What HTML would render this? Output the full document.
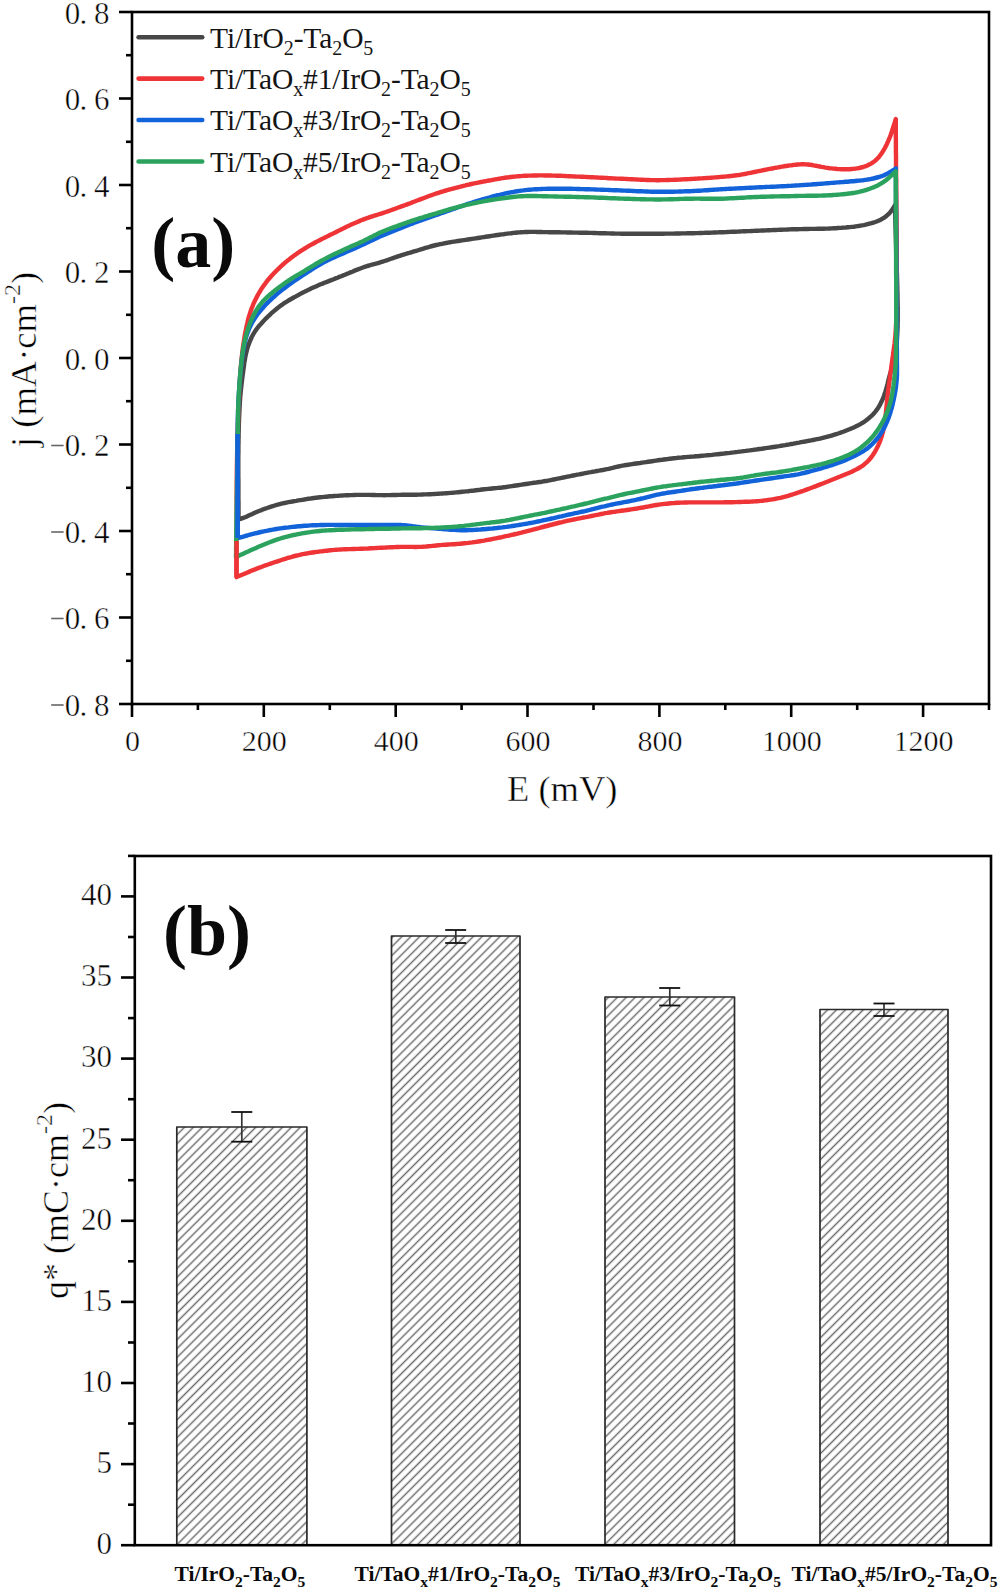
<!DOCTYPE html>
<html><head><meta charset="utf-8">
<style>
html,body{margin:0;padding:0;background:#fff;}
body{width:1000px;height:1593px;overflow:hidden;}
svg{display:block;}
text{font-family:"Liberation Serif", serif;fill:#000;stroke:#fff;stroke-width:0.45px;}
.bd text,text.bd{stroke:none;fill:#0a0a0a;}
.lg text{stroke:none;fill:#141414;}
</style></head><body>
<svg width="1000" height="1593" viewBox="0 0 1000 1593">
<defs>
<pattern id="hatch" patternUnits="userSpaceOnUse" width="6.3" height="6.3" patternTransform="translate(0,-2.4) rotate(45)">
<line x1="3.15" y1="0" x2="3.15" y2="6.3" stroke="#6a6a6a" stroke-width="1.45"/>
</pattern>
</defs>
<rect width="1000" height="1593" fill="#fff"/>
<g>
<path d="M238.5,519.5 238.5,517.5 238.5,515.5 238.5,513.5 238.5,511.5 238.5,509.5 238.5,507.5 238.5,505.5 238.5,503.5 238.5,501.5 238.4,499.5 238.4,497.5 238.4,495.5 238.4,493.5 238.4,491.4 238.4,489.4 238.4,487.4 238.4,485.4 238.4,483.4 238.4,481.4 238.4,479.4 238.3,477.4 238.3,475.4 238.3,473.4 238.3,471.4 238.3,469.4 238.3,467.4 238.3,465.4 238.3,463.4 238.3,461.4 238.3,459.4 238.3,457.4 238.3,455.4 238.4,453.4 238.4,451.4 238.4,449.4 238.4,447.4 238.4,445.4 238.5,443.4 238.5,441.4 238.5,439.4 238.6,437.4 238.6,435.3 238.6,433.3 238.7,431.3 238.7,429.3 238.8,427.3 238.8,425.3 238.9,423.3 239.0,421.3 239.0,419.3 239.1,417.3 239.2,415.3 239.3,413.3 239.4,411.3 239.5,409.3 239.6,407.3 239.7,405.3 239.8,403.3 239.9,401.3 240.1,399.3 240.2,397.3 240.4,395.3 240.6,393.3 240.8,391.3 241.0,389.3 241.2,387.3 241.4,385.4 241.6,383.4 241.9,381.4 242.1,379.4 242.4,377.4 242.6,375.4 242.9,373.4 243.2,371.4 243.4,369.5 243.7,367.5 244.0,365.5 244.2,363.5 244.5,361.5 244.9,359.5 245.2,357.6 245.6,355.6 246.0,353.7 246.5,351.7 247.0,349.8 247.5,347.9 248.1,345.9 248.8,344.1 249.5,342.2 250.3,340.3 251.1,338.5 251.9,336.7 252.9,334.9 253.9,333.2 254.9,331.5 256.0,329.9 257.2,328.3 258.5,326.7 259.7,325.2 261.1,323.7 262.4,322.2 263.8,320.7 265.2,319.3 266.6,317.9 268.0,316.5 269.5,315.1 270.9,313.7 272.4,312.4 273.9,311.1 275.5,309.8 277.0,308.5 278.6,307.3 280.2,306.0 281.8,304.9 283.4,303.7 285.1,302.6 286.8,301.6 288.5,300.5 290.2,299.5 292.0,298.5 293.7,297.5 295.5,296.6 297.2,295.6 299.0,294.7 300.8,293.7 302.5,292.8 304.3,291.9 306.1,291.0 307.9,290.1 309.7,289.2 311.5,288.3 313.3,287.5 315.2,286.7 317.0,285.9 318.8,285.1 320.7,284.3 322.5,283.6 324.4,282.8 326.3,282.1 328.1,281.4 330.0,280.6 331.9,279.9 333.7,279.2 335.6,278.4 337.4,277.7 339.3,276.9 341.2,276.2 343.0,275.4 344.9,274.7 346.7,273.9 348.6,273.2 350.5,272.4 352.3,271.7 354.2,270.9 356.0,270.1 357.9,269.4 359.7,268.7 361.6,268.0 363.5,267.3 365.4,266.6 367.3,266.0 369.2,265.5 371.1,264.9 373.1,264.4 375.0,263.9 376.9,263.4 378.9,262.8 380.8,262.2 382.7,261.6 384.6,261.0 386.5,260.4 388.4,259.7 390.3,259.0 392.2,258.4 394.0,257.7 395.9,257.1 397.8,256.4 399.7,255.8 401.7,255.2 403.6,254.6 405.5,254.0 407.4,253.4 409.3,252.9 411.2,252.3 413.2,251.7 415.1,251.1 417.0,250.6 418.9,250.0 420.8,249.4 422.8,248.8 424.7,248.2 426.6,247.6 428.5,247.1 430.4,246.5 432.4,246.0 434.3,245.5 436.3,245.0 438.2,244.6 440.2,244.2 442.1,243.8 444.1,243.4 446.1,243.0 448.0,242.6 450.0,242.3 452.0,241.9 454.0,241.6 455.9,241.3 457.9,241.0 459.9,240.7 461.9,240.4 463.9,240.1 465.8,239.8 467.8,239.5 469.8,239.2 471.8,238.9 473.8,238.6 475.7,238.3 477.7,238.0 479.7,237.7 481.7,237.4 483.7,237.1 485.7,236.8 487.6,236.5 489.6,236.2 491.6,235.9 493.6,235.6 495.6,235.3 497.5,235.0 499.5,234.7 501.5,234.4 503.5,234.2 505.5,233.9 507.5,233.6 509.4,233.4 511.4,233.2 513.4,232.9 515.4,232.7 517.4,232.5 519.4,232.4 521.4,232.2 523.4,232.1 525.4,232.0 527.4,232.0 529.4,231.9 531.4,231.9 533.4,231.9 535.4,231.9 537.4,232.0 539.4,232.0 541.4,232.0 543.4,232.1 545.4,232.1 547.4,232.1 549.4,232.2 551.4,232.2 553.4,232.2 555.5,232.3 557.5,232.3 559.5,232.3 561.5,232.4 563.5,232.4 565.5,232.4 567.5,232.5 569.5,232.5 571.5,232.5 573.5,232.6 575.5,232.6 577.5,232.6 579.5,232.7 581.5,232.7 583.5,232.8 585.5,232.8 587.5,232.8 589.5,232.9 591.5,232.9 593.5,233.0 595.5,233.0 597.5,233.1 599.5,233.2 601.5,233.2 603.5,233.3 605.5,233.3 607.5,233.4 609.5,233.4 611.5,233.5 613.5,233.5 615.5,233.6 617.6,233.6 619.6,233.6 621.6,233.7 623.6,233.7 625.6,233.7 627.6,233.7 629.6,233.8 631.6,233.8 633.6,233.8 635.6,233.8 637.6,233.8 639.6,233.8 641.6,233.8 643.6,233.8 645.6,233.8 647.6,233.8 649.6,233.7 651.6,233.7 653.6,233.7 655.6,233.7 657.6,233.7 659.6,233.7 661.6,233.7 663.6,233.7 665.6,233.6 667.6,233.6 669.6,233.6 671.6,233.6 673.7,233.6 675.7,233.5 677.7,233.5 679.7,233.5 681.7,233.4 683.7,233.4 685.7,233.4 687.7,233.3 689.7,233.3 691.7,233.2 693.7,233.2 695.7,233.1 697.7,233.1 699.7,233.0 701.7,233.0 703.7,232.9 705.7,232.8 707.7,232.8 709.7,232.7 711.7,232.6 713.7,232.5 715.7,232.5 717.7,232.4 719.7,232.3 721.7,232.2 723.7,232.2 725.7,232.1 727.7,232.0 729.7,231.9 731.7,231.8 733.7,231.7 735.7,231.7 737.7,231.6 739.7,231.5 741.7,231.4 743.7,231.3 745.7,231.2 747.7,231.1 749.7,231.1 751.7,231.0 753.7,230.9 755.8,230.8 757.8,230.7 759.8,230.6 761.8,230.5 763.8,230.5 765.8,230.4 767.8,230.3 769.8,230.2 771.8,230.1 773.8,230.0 775.8,230.0 777.8,229.9 779.8,229.8 781.8,229.7 783.8,229.6 785.8,229.6 787.8,229.5 789.8,229.4 791.8,229.3 793.8,229.3 795.8,229.2 797.8,229.2 799.8,229.1 801.8,229.1 803.8,229.0 805.8,229.0 807.8,229.0 809.8,228.9 811.8,228.9 813.8,228.9 815.8,228.9 817.8,228.8 819.8,228.8 821.8,228.7 823.8,228.7 825.8,228.6 827.8,228.6 829.8,228.5 831.8,228.4 833.8,228.3 835.8,228.2 837.8,228.0 839.8,227.9 841.8,227.8 843.8,227.6 845.8,227.5 847.8,227.3 849.8,227.1 851.8,226.9 853.8,226.7 855.8,226.4 857.8,226.1 859.8,225.8 861.7,225.4 863.7,225.1 865.7,224.7 867.6,224.2 869.5,223.7 871.5,223.2 873.4,222.6 875.3,222.0 877.2,221.3 879.0,220.5 880.8,219.7 882.5,218.7 884.2,217.6 885.8,216.5 887.3,215.2 888.7,213.9 890.1,212.4 891.3,210.9 892.4,209.3 893.5,207.6 894.5,205.9 895.0,205.0 L895.0,205.0 895.0,207.0 895.1,209.0 895.1,211.0 895.2,213.0 895.2,215.0 895.3,217.0 895.3,219.0 895.4,221.0 895.4,223.0 895.5,225.0 895.5,227.0 895.6,229.0 895.6,231.1 895.7,233.1 895.8,235.1 895.8,237.1 895.9,239.1 895.9,241.1 896.0,243.1 896.1,245.1 896.1,247.1 896.2,249.1 896.2,251.1 896.3,253.1 896.4,255.1 896.4,257.1 896.5,259.1 896.5,261.1 896.6,263.1 896.7,265.1 896.7,267.1 896.8,269.1 896.8,271.1 896.9,273.1 897.0,275.1 897.0,277.1 897.1,279.1 897.1,281.1 897.2,283.1 897.2,285.1 897.3,287.2 897.3,289.2 897.4,291.2 897.4,293.2 897.5,295.2 897.5,297.2 897.5,299.2 897.6,301.2 897.6,303.2 897.6,305.2 897.6,307.2 897.7,309.2 897.7,311.2 897.7,313.2 897.7,315.2 897.7,317.2 897.7,319.2 897.7,321.2 897.6,323.2 897.6,325.2 897.6,327.2 897.5,329.2 897.4,331.2 897.3,333.2 897.2,335.2 897.1,337.2 897.0,339.2 896.8,341.2 896.6,343.2 896.4,345.2 896.1,347.2 895.9,349.2 895.6,351.2 895.2,353.2 894.9,355.1 894.5,357.1 894.1,359.1 893.7,361.0 893.2,363.0 892.7,364.9 892.2,366.8 891.6,368.8 891.1,370.7 890.5,372.6 890.0,374.5 889.4,376.5 888.9,378.4 888.4,380.4 887.9,382.3 887.5,384.2 887.0,386.2 886.4,388.1 885.9,390.0 885.3,391.9 884.6,393.8 884.0,395.7 883.3,397.6 882.5,399.5 881.7,401.3 880.8,403.1 879.9,404.9 878.9,406.6 877.9,408.3 876.7,409.9 875.5,411.5 874.3,413.0 872.9,414.5 871.5,415.9 870.0,417.2 868.5,418.5 866.9,419.8 865.3,421.0 863.7,422.1 862.0,423.2 860.3,424.2 858.5,425.1 856.7,426.0 854.9,426.9 853.1,427.7 851.3,428.5 849.4,429.3 847.6,430.0 845.7,430.7 843.8,431.5 841.9,432.2 840.1,432.8 838.2,433.5 836.3,434.1 834.4,434.7 832.4,435.3 830.5,435.9 828.6,436.4 826.7,436.9 824.7,437.4 822.8,437.9 820.8,438.4 818.9,438.8 816.9,439.2 814.9,439.6 813.0,440.0 811.0,440.4 809.0,440.7 807.1,441.1 805.1,441.5 803.1,441.8 801.1,442.2 799.2,442.6 797.2,442.9 795.2,443.3 793.3,443.7 791.3,444.0 789.3,444.4 787.3,444.7 785.4,445.1 783.4,445.4 781.4,445.7 779.4,446.1 777.5,446.4 775.5,446.7 773.5,447.0 771.5,447.3 769.5,447.6 767.5,447.9 765.6,448.2 763.6,448.5 761.6,448.8 759.6,449.0 757.6,449.3 755.6,449.6 753.6,449.8 751.7,450.1 749.7,450.4 747.7,450.6 745.7,450.9 743.7,451.1 741.7,451.4 739.7,451.6 737.7,451.9 735.8,452.1 733.8,452.4 731.8,452.6 729.8,452.9 727.8,453.1 725.8,453.3 723.8,453.6 721.8,453.8 719.8,454.0 717.8,454.2 715.8,454.4 713.8,454.6 711.9,454.9 709.9,455.1 707.9,455.2 705.9,455.4 703.9,455.6 701.9,455.8 699.9,456.0 697.9,456.2 695.9,456.3 693.9,456.5 691.9,456.6 689.9,456.8 687.9,456.9 685.9,457.1 683.9,457.3 681.9,457.5 679.9,457.6 677.9,457.8 675.9,458.1 673.9,458.3 671.9,458.5 669.9,458.7 668.0,459.0 666.0,459.2 664.0,459.5 662.0,459.8 660.0,460.0 658.0,460.3 656.0,460.6 654.1,460.9 652.1,461.2 650.1,461.5 648.1,461.8 646.1,462.1 644.1,462.4 642.2,462.7 640.2,463.0 638.2,463.2 636.2,463.5 634.2,463.8 632.2,464.1 630.3,464.4 628.3,464.7 626.3,465.0 624.3,465.3 622.3,465.7 620.4,466.1 618.4,466.5 616.5,466.9 614.5,467.4 612.6,467.9 610.6,468.3 608.7,468.8 606.7,469.2 604.7,469.6 602.8,470.0 600.8,470.3 598.8,470.7 596.9,471.0 594.9,471.4 592.9,471.7 590.9,472.1 589.0,472.4 587.0,472.8 585.0,473.2 583.1,473.6 581.1,474.0 579.1,474.4 577.2,474.7 575.2,475.1 573.2,475.5 571.3,475.9 569.3,476.3 567.3,476.7 565.4,477.1 563.4,477.5 561.5,477.9 559.5,478.3 557.5,478.7 555.6,479.1 553.6,479.5 551.6,479.9 549.7,480.3 547.7,480.7 545.7,481.0 543.7,481.3 541.8,481.7 539.8,482.0 537.8,482.3 535.8,482.6 533.8,482.8 531.8,483.1 529.9,483.4 527.9,483.7 525.9,484.0 523.9,484.3 521.9,484.6 520.0,484.9 518.0,485.2 516.0,485.5 514.0,485.8 512.0,486.1 510.0,486.4 508.1,486.7 506.1,487.0 504.1,487.2 502.1,487.5 500.1,487.7 498.1,487.9 496.1,488.1 494.1,488.3 492.1,488.5 490.1,488.7 488.1,488.9 486.1,489.1 484.2,489.3 482.2,489.5 480.2,489.8 478.2,490.0 476.2,490.2 474.2,490.5 472.2,490.7 470.2,490.9 468.2,491.2 466.2,491.4 464.2,491.6 462.3,491.8 460.3,492.0 458.3,492.2 456.3,492.4 454.3,492.6 452.3,492.8 450.3,492.9 448.3,493.1 446.3,493.2 444.3,493.4 442.3,493.5 440.3,493.6 438.3,493.7 436.3,493.9 434.3,494.0 432.3,494.1 430.3,494.2 428.3,494.3 426.3,494.4 424.3,494.4 422.3,494.5 420.3,494.6 418.2,494.6 416.2,494.7 414.2,494.7 412.2,494.7 410.2,494.7 408.2,494.8 406.2,494.8 404.2,494.8 402.2,494.8 400.2,494.9 398.2,494.9 396.2,495.0 394.2,495.0 392.2,495.0 390.2,495.1 388.2,495.1 386.2,495.1 384.2,495.2 382.2,495.1 380.2,495.1 378.2,495.1 376.2,495.1 374.2,495.0 372.2,495.0 370.2,494.9 368.1,494.9 366.1,494.9 364.1,494.9 362.1,494.9 360.1,494.9 358.1,494.9 356.1,494.9 354.1,495.0 352.1,495.1 350.1,495.1 348.1,495.2 346.1,495.3 344.1,495.4 342.1,495.5 340.1,495.6 338.1,495.8 336.1,495.9 334.1,496.0 332.1,496.2 330.1,496.3 328.1,496.5 326.1,496.7 324.1,496.9 322.1,497.1 320.1,497.3 318.1,497.5 316.1,497.7 314.2,498.0 312.2,498.3 310.2,498.6 308.2,498.8 306.2,499.1 304.2,499.5 302.3,499.8 300.3,500.1 298.3,500.4 296.3,500.8 294.4,501.1 292.4,501.5 290.4,501.8 288.4,502.2 286.5,502.6 284.5,503.0 282.6,503.4 280.6,503.9 278.7,504.4 276.7,504.9 274.8,505.5 272.9,506.1 271.0,506.7 269.1,507.3 267.2,508.0 265.3,508.6 263.4,509.3 261.6,510.1 259.7,510.8 257.8,511.5 256.0,512.3 254.2,513.1 252.3,514.0 250.5,514.8 248.7,515.6 246.9,516.4 245.1,517.2 243.2,517.9 241.3,518.6 239.4,519.2 238.5,519.5 " fill="none" stroke="#474747" stroke-width="4.4" stroke-linejoin="round" stroke-linecap="round"/>
<path d="M236.5,577.0 236.5,575.0 236.5,573.0 236.5,571.0 236.5,569.0 236.5,567.0 236.5,565.0 236.5,563.0 236.5,561.0 236.5,559.0 236.5,557.0 236.5,555.0 236.5,553.0 236.5,551.0 236.5,549.0 236.5,547.0 236.5,545.0 236.5,543.0 236.5,541.0 236.5,538.9 236.5,536.9 236.5,534.9 236.5,532.9 236.5,530.9 236.5,528.9 236.5,526.9 236.5,524.9 236.5,522.9 236.5,520.9 236.6,518.9 236.6,516.9 236.6,514.9 236.6,512.9 236.6,510.9 236.6,508.9 236.6,506.9 236.6,504.9 236.6,502.9 236.6,500.9 236.6,498.9 236.6,496.9 236.6,494.9 236.7,492.9 236.7,490.9 236.7,488.9 236.7,486.9 236.7,484.9 236.7,482.9 236.7,480.9 236.8,478.9 236.8,476.9 236.8,474.9 236.8,472.9 236.8,470.9 236.9,468.9 236.9,466.9 236.9,464.9 237.0,462.8 237.0,460.8 237.0,458.8 237.1,456.8 237.1,454.8 237.1,452.8 237.2,450.8 237.2,448.8 237.3,446.8 237.3,444.8 237.4,442.8 237.4,440.8 237.5,438.8 237.5,436.8 237.6,434.8 237.7,432.8 237.7,430.8 237.8,428.8 237.9,426.8 237.9,424.8 238.0,422.8 238.1,420.8 238.1,418.8 238.2,416.8 238.3,414.8 238.4,412.8 238.5,410.8 238.6,408.8 238.6,406.8 238.7,404.8 238.8,402.8 238.9,400.8 239.0,398.8 239.1,396.8 239.1,394.8 239.2,392.8 239.3,390.8 239.4,388.8 239.5,386.8 239.6,384.8 239.7,382.8 239.9,380.8 240.0,378.8 240.1,376.8 240.2,374.8 240.4,372.8 240.5,370.8 240.7,368.8 240.9,366.8 241.0,364.8 241.2,362.8 241.4,360.8 241.6,358.8 241.8,356.8 242.0,354.9 242.3,352.9 242.5,350.9 242.8,348.9 243.0,346.9 243.3,344.9 243.6,342.9 243.9,341.0 244.2,339.0 244.5,337.0 244.9,335.0 245.2,333.1 245.6,331.1 246.0,329.1 246.4,327.2 246.8,325.2 247.3,323.3 247.7,321.3 248.2,319.4 248.7,317.4 249.3,315.5 249.9,313.6 250.5,311.7 251.1,309.8 251.8,307.9 252.6,306.1 253.3,304.2 254.1,302.4 255.0,300.6 255.9,298.8 256.8,297.0 257.7,295.2 258.7,293.5 259.7,291.8 260.7,290.1 261.8,288.4 262.9,286.7 264.1,285.1 265.3,283.5 266.5,281.9 267.7,280.3 269.0,278.8 270.3,277.3 271.6,275.8 273.0,274.3 274.4,272.8 275.8,271.4 277.2,270.0 278.6,268.6 280.1,267.2 281.5,265.8 283.0,264.5 284.5,263.2 286.0,261.9 287.6,260.6 289.2,259.4 290.7,258.1 292.3,256.9 293.9,255.7 295.6,254.6 297.2,253.4 298.8,252.3 300.5,251.2 302.2,250.1 303.9,249.0 305.6,248.0 307.3,246.9 309.0,245.9 310.8,244.9 312.5,244.0 314.3,243.0 316.0,242.0 317.8,241.1 319.6,240.2 321.4,239.3 323.2,238.4 325.0,237.5 326.8,236.6 328.6,235.7 330.3,234.8 332.1,234.0 333.9,233.1 335.7,232.2 337.5,231.3 339.3,230.4 341.1,229.5 342.9,228.6 344.7,227.7 346.5,226.8 348.3,226.0 350.1,225.1 351.9,224.3 353.8,223.5 355.6,222.7 357.4,221.9 359.3,221.1 361.1,220.3 363.0,219.6 364.9,218.9 366.7,218.2 368.6,217.6 370.5,216.9 372.4,216.3 374.4,215.7 376.3,215.1 378.2,214.5 380.1,213.9 382.0,213.3 383.9,212.7 385.8,212.0 387.7,211.4 389.6,210.7 391.5,210.0 393.3,209.4 395.2,208.7 397.1,208.0 399.0,207.3 400.9,206.6 402.8,205.9 404.6,205.3 406.5,204.6 408.4,203.9 410.3,203.2 412.1,202.4 414.0,201.7 415.9,201.0 417.8,200.3 419.6,199.6 421.5,198.9 423.4,198.2 425.2,197.5 427.1,196.7 429.0,196.0 430.9,195.4 432.8,194.7 434.7,194.0 436.6,193.4 438.5,192.8 440.4,192.2 442.3,191.6 444.2,191.0 446.1,190.5 448.0,189.9 450.0,189.4 451.9,188.9 453.8,188.3 455.8,187.8 457.7,187.3 459.7,186.8 461.6,186.3 463.5,185.8 465.5,185.4 467.4,184.9 469.4,184.5 471.3,184.0 473.3,183.6 475.3,183.2 477.2,182.8 479.2,182.4 481.1,182.0 483.1,181.6 485.1,181.3 487.0,180.9 489.0,180.5 491.0,180.2 493.0,179.8 494.9,179.4 496.9,179.1 498.9,178.8 500.8,178.4 502.8,178.1 504.8,177.8 506.8,177.5 508.8,177.3 510.8,177.0 512.8,176.8 514.7,176.6 516.7,176.4 518.7,176.2 520.7,176.1 522.7,175.9 524.7,175.8 526.7,175.7 528.7,175.6 530.7,175.6 532.7,175.5 534.7,175.5 536.7,175.5 538.7,175.4 540.7,175.4 542.7,175.4 544.7,175.5 546.7,175.5 548.7,175.5 550.7,175.5 552.7,175.6 554.8,175.6 556.8,175.7 558.8,175.8 560.8,175.8 562.8,175.9 564.8,176.0 566.8,176.1 568.8,176.2 570.8,176.3 572.8,176.4 574.8,176.5 576.8,176.6 578.8,176.6 580.8,176.7 582.8,176.8 584.8,176.9 586.8,177.0 588.8,177.1 590.8,177.2 592.8,177.3 594.8,177.4 596.8,177.5 598.8,177.6 600.8,177.7 602.8,177.8 604.8,177.9 606.8,178.0 608.8,178.2 610.8,178.3 612.8,178.4 614.8,178.5 616.8,178.6 618.8,178.6 620.8,178.7 622.8,178.8 624.8,178.9 626.8,179.0 628.8,179.1 630.8,179.2 632.8,179.3 634.8,179.4 636.8,179.5 638.8,179.6 640.8,179.7 642.8,179.8 644.8,179.9 646.8,180.0 648.8,180.0 650.8,180.1 652.8,180.1 654.8,180.1 656.8,180.2 658.8,180.2 660.8,180.1 662.8,180.1 664.8,180.1 666.8,180.0 668.8,180.0 670.8,179.9 672.8,179.9 674.8,179.8 676.8,179.7 678.8,179.6 680.8,179.5 682.8,179.4 684.8,179.3 686.8,179.2 688.8,179.1 690.8,179.0 692.8,178.9 694.8,178.7 696.8,178.6 698.8,178.5 700.8,178.4 702.8,178.3 704.8,178.1 706.8,178.0 708.8,177.9 710.8,177.7 712.8,177.6 714.8,177.4 716.8,177.3 718.8,177.1 720.8,176.9 722.8,176.7 724.8,176.6 726.8,176.4 728.7,176.2 730.7,176.0 732.7,175.8 734.7,175.5 736.7,175.2 738.7,175.0 740.7,174.7 742.6,174.3 744.6,174.0 746.6,173.6 748.5,173.2 750.5,172.8 752.5,172.4 754.4,172.0 756.4,171.6 758.3,171.2 760.3,170.8 762.3,170.4 764.2,170.0 766.2,169.6 768.2,169.2 770.1,168.8 772.1,168.5 774.1,168.1 776.0,167.7 778.0,167.4 780.0,167.0 781.9,166.7 783.9,166.3 785.9,166.0 787.9,165.7 789.9,165.4 791.8,165.2 793.8,164.9 795.8,164.7 797.8,164.5 799.8,164.4 801.8,164.3 803.8,164.3 805.8,164.4 807.8,164.5 809.8,164.7 811.7,165.0 813.7,165.4 815.7,165.7 817.6,166.1 819.6,166.5 821.6,166.9 823.5,167.2 825.5,167.6 827.5,167.9 829.5,168.2 831.4,168.4 833.4,168.6 835.4,168.8 837.4,169.0 839.4,169.1 841.4,169.2 843.4,169.3 845.4,169.3 847.4,169.2 849.4,169.2 851.4,169.0 853.4,168.9 855.4,168.6 857.3,168.3 859.3,168.0 861.2,167.5 863.2,167.0 865.0,166.4 866.9,165.7 868.7,164.8 870.5,163.9 872.2,162.9 873.8,161.8 875.3,160.6 876.8,159.2 878.2,157.8 879.4,156.3 880.6,154.7 881.8,153.1 882.9,151.4 883.9,149.7 884.9,148.0 885.8,146.2 886.7,144.4 887.5,142.6 888.3,140.8 889.1,138.9 889.9,137.1 890.6,135.2 891.2,133.3 891.9,131.4 892.5,129.5 893.1,127.6 893.7,125.7 894.3,123.8 894.9,121.9 895.5,120.0 895.8,119.0 L895.8,119.0 895.8,121.0 895.8,123.0 895.8,125.0 895.8,127.0 895.8,129.0 895.8,131.0 895.8,133.0 895.8,135.0 895.8,137.0 895.9,139.0 895.9,141.0 895.9,143.0 895.9,145.0 895.9,147.0 895.9,149.0 895.9,151.0 895.9,153.1 896.0,155.1 896.0,157.1 896.0,159.1 896.0,161.1 896.0,163.1 896.0,165.1 896.0,167.1 896.1,169.1 896.1,171.1 896.1,173.1 896.1,175.1 896.1,177.1 896.2,179.1 896.2,181.1 896.2,183.1 896.2,185.1 896.2,187.1 896.2,189.1 896.3,191.1 896.3,193.1 896.3,195.1 896.3,197.1 896.3,199.1 896.4,201.1 896.4,203.1 896.4,205.1 896.4,207.1 896.4,209.1 896.5,211.1 896.5,213.1 896.5,215.1 896.5,217.1 896.5,219.2 896.6,221.2 896.6,223.2 896.6,225.2 896.6,227.2 896.6,229.2 896.6,231.2 896.7,233.2 896.7,235.2 896.7,237.2 896.7,239.2 896.7,241.2 896.7,243.2 896.7,245.2 896.7,247.2 896.8,249.2 896.8,251.2 896.8,253.2 896.8,255.2 896.8,257.2 896.8,259.2 896.8,261.2 896.8,263.2 896.8,265.2 896.8,267.2 896.8,269.2 896.8,271.2 896.8,273.2 896.8,275.2 896.8,277.2 896.8,279.2 896.8,281.2 896.8,283.3 896.8,285.3 896.8,287.3 896.8,289.3 896.8,291.3 896.8,293.3 896.7,295.3 896.7,297.3 896.7,299.3 896.7,301.3 896.6,303.3 896.6,305.3 896.6,307.3 896.5,309.3 896.5,311.3 896.4,313.3 896.4,315.3 896.3,317.3 896.3,319.3 896.2,321.3 896.1,323.3 896.0,325.3 895.9,327.3 895.8,329.3 895.7,331.3 895.5,333.3 895.4,335.3 895.2,337.3 895.0,339.3 894.8,341.3 894.6,343.3 894.3,345.3 894.1,347.2 893.8,349.2 893.5,351.2 893.3,353.2 893.0,355.2 892.7,357.2 892.4,359.1 892.1,361.1 891.9,363.1 891.6,365.1 891.3,367.1 891.1,369.1 890.8,371.1 890.5,373.0 890.3,375.0 890.0,377.0 889.7,379.0 889.5,381.0 889.2,383.0 888.9,385.0 888.7,386.9 888.4,388.9 888.2,390.9 887.9,392.9 887.7,394.9 887.5,396.9 887.3,398.9 887.1,400.9 886.9,402.9 886.7,404.9 886.5,406.8 886.3,408.8 886.1,410.8 885.9,412.8 885.7,414.8 885.5,416.8 885.3,418.8 885.0,420.8 884.7,422.8 884.4,424.7 884.1,426.7 883.7,428.7 883.2,430.6 882.8,432.6 882.2,434.5 881.7,436.4 881.0,438.3 880.4,440.2 879.7,442.1 878.9,443.9 878.1,445.7 877.2,447.5 876.3,449.3 875.3,451.1 874.3,452.8 873.2,454.5 872.1,456.1 870.9,457.7 869.6,459.2 868.3,460.7 866.9,462.1 865.4,463.4 863.9,464.7 862.3,465.9 860.6,467.0 858.9,468.0 857.2,469.0 855.4,469.9 853.6,470.8 851.8,471.7 850.0,472.5 848.2,473.3 846.3,474.0 844.4,474.8 842.6,475.5 840.7,476.3 838.9,477.0 837.0,477.8 835.2,478.5 833.3,479.3 831.4,480.0 829.6,480.7 827.7,481.5 825.9,482.2 824.0,483.0 822.1,483.7 820.3,484.4 818.4,485.1 816.5,485.9 814.7,486.6 812.8,487.3 810.9,488.0 809.0,488.7 807.2,489.4 805.3,490.1 803.4,490.8 801.5,491.4 799.6,492.1 797.7,492.7 795.8,493.4 793.9,494.0 792.0,494.6 790.1,495.2 788.2,495.8 786.2,496.3 784.3,496.8 782.4,497.3 780.4,497.8 778.5,498.2 776.5,498.6 774.5,499.0 772.6,499.3 770.6,499.6 768.6,499.9 766.6,500.2 764.6,500.4 762.6,500.7 760.7,500.9 758.7,501.1 756.7,501.2 754.7,501.4 752.7,501.5 750.7,501.6 748.7,501.7 746.7,501.8 744.7,501.8 742.7,501.9 740.7,502.0 738.7,502.0 736.7,502.1 734.7,502.1 732.7,502.2 730.6,502.2 728.6,502.3 726.6,502.3 724.6,502.3 722.6,502.4 720.6,502.4 718.6,502.4 716.6,502.4 714.6,502.4 712.6,502.4 710.6,502.4 708.6,502.4 706.6,502.4 704.6,502.4 702.6,502.4 700.6,502.4 698.6,502.4 696.6,502.4 694.6,502.4 692.6,502.4 690.6,502.4 688.6,502.4 686.6,502.5 684.6,502.5 682.6,502.6 680.6,502.6 678.6,502.7 676.6,502.8 674.6,503.0 672.6,503.1 670.6,503.3 668.6,503.5 666.6,503.7 664.6,503.9 662.6,504.1 660.6,504.4 658.7,504.7 656.7,505.0 654.7,505.3 652.7,505.6 650.8,506.0 648.8,506.4 646.8,506.7 644.8,507.1 642.9,507.5 640.9,507.8 638.9,508.1 637.0,508.5 635.0,508.8 633.0,509.1 631.0,509.4 629.0,509.7 627.1,510.0 625.1,510.3 623.1,510.5 621.1,510.8 619.1,511.1 617.1,511.4 615.2,511.7 613.2,511.9 611.2,512.2 609.2,512.5 607.2,512.9 605.3,513.2 603.3,513.6 601.3,514.0 599.4,514.4 597.4,514.8 595.4,515.2 593.5,515.6 591.5,516.0 589.6,516.4 587.6,516.8 585.6,517.2 583.7,517.5 581.7,517.9 579.7,518.3 577.8,518.7 575.8,519.1 573.8,519.5 571.9,519.9 569.9,520.3 568.0,520.7 566.0,521.2 564.0,521.6 562.1,522.1 560.1,522.5 558.2,523.0 556.3,523.5 554.3,524.0 552.4,524.5 550.4,525.0 548.5,525.5 546.6,526.0 544.6,526.5 542.7,527.0 540.8,527.5 538.8,528.1 536.9,528.6 535.0,529.1 533.0,529.6 531.1,530.2 529.2,530.7 527.2,531.2 525.3,531.7 523.3,532.2 521.4,532.7 519.4,533.1 517.5,533.6 515.5,534.0 513.6,534.5 511.6,534.9 509.7,535.4 507.7,535.8 505.8,536.2 503.8,536.6 501.8,537.1 499.9,537.5 497.9,537.9 496.0,538.3 494.0,538.7 492.0,539.1 490.1,539.5 488.1,539.8 486.1,540.2 484.2,540.6 482.2,540.9 480.2,541.2 478.2,541.5 476.3,541.8 474.3,542.1 472.3,542.4 470.3,542.6 468.3,542.9 466.3,543.1 464.3,543.3 462.3,543.5 460.3,543.7 458.3,543.9 456.4,544.0 454.4,544.2 452.4,544.3 450.4,544.4 448.4,544.5 446.4,544.7 444.4,544.8 442.4,544.9 440.4,545.1 438.4,545.3 436.4,545.5 434.4,545.7 432.4,545.9 430.4,546.1 428.4,546.3 426.4,546.5 424.4,546.6 422.4,546.8 420.4,546.9 418.4,546.9 416.4,547.0 414.4,547.0 412.4,546.9 410.4,546.9 408.4,546.9 406.4,546.9 404.4,546.9 402.4,546.9 400.4,546.9 398.4,547.0 396.4,547.0 394.4,547.1 392.4,547.2 390.4,547.3 388.4,547.4 386.4,547.5 384.4,547.6 382.4,547.7 380.4,547.8 378.4,547.9 376.4,548.0 374.4,548.1 372.4,548.2 370.4,548.3 368.4,548.5 366.4,548.6 364.4,548.6 362.4,548.7 360.4,548.8 358.4,548.9 356.4,548.9 354.4,549.0 352.4,549.0 350.4,549.1 348.4,549.1 346.4,549.2 344.4,549.3 342.4,549.4 340.4,549.5 338.4,549.6 336.4,549.7 334.4,549.9 332.4,550.1 330.4,550.3 328.4,550.5 326.4,550.7 324.4,550.9 322.4,551.2 320.4,551.4 318.5,551.7 316.5,551.9 314.5,552.2 312.5,552.5 310.5,552.8 308.5,553.1 306.6,553.5 304.6,553.8 302.6,554.2 300.7,554.6 298.7,555.1 296.8,555.5 294.8,556.0 292.9,556.5 291.0,557.1 289.1,557.6 287.1,558.2 285.2,558.8 283.3,559.4 281.4,560.0 279.5,560.7 277.6,561.3 275.7,561.9 273.8,562.5 271.9,563.2 270.0,563.8 268.1,564.5 266.2,565.1 264.3,565.8 262.5,566.5 260.6,567.2 258.7,567.9 256.8,568.6 255.0,569.4 253.1,570.1 251.3,570.8 249.4,571.6 247.6,572.4 245.7,573.2 243.9,574.0 242.0,574.7 240.2,575.5 238.3,576.3 236.5,577.1 " fill="none" stroke="#ee3437" stroke-width="4.4" stroke-linejoin="round" stroke-linecap="round"/>
<path d="M237.6,538.0 237.6,536.0 237.6,534.0 237.6,532.0 237.6,530.0 237.6,528.0 237.6,526.0 237.6,524.0 237.6,522.0 237.6,520.0 237.6,518.0 237.6,516.0 237.6,514.0 237.6,512.0 237.6,510.0 237.5,508.0 237.5,506.0 237.5,503.9 237.5,501.9 237.5,499.9 237.5,497.9 237.5,495.9 237.5,493.9 237.5,491.9 237.5,489.9 237.5,487.9 237.5,485.9 237.5,483.9 237.5,481.9 237.5,479.9 237.5,477.9 237.5,475.9 237.5,473.9 237.5,471.9 237.5,469.9 237.5,467.9 237.5,465.9 237.5,463.9 237.5,461.9 237.5,459.9 237.5,457.9 237.5,455.9 237.5,453.9 237.5,451.9 237.5,449.9 237.5,447.9 237.5,445.9 237.5,443.9 237.5,441.9 237.5,439.9 237.6,437.9 237.6,435.8 237.6,433.8 237.6,431.8 237.7,429.8 237.7,427.8 237.7,425.8 237.7,423.8 237.8,421.8 237.8,419.8 237.9,417.8 237.9,415.8 238.0,413.8 238.0,411.8 238.1,409.8 238.2,407.8 238.2,405.8 238.3,403.8 238.4,401.8 238.5,399.8 238.6,397.8 238.8,395.8 238.9,393.8 239.0,391.8 239.1,389.8 239.3,387.8 239.4,385.8 239.5,383.8 239.7,381.8 239.9,379.8 240.0,377.8 240.2,375.8 240.4,373.8 240.6,371.8 240.8,369.9 241.0,367.9 241.2,365.9 241.4,363.9 241.7,361.9 241.9,359.9 242.2,357.9 242.5,355.9 242.8,354.0 243.1,352.0 243.4,350.0 243.8,348.0 244.1,346.1 244.5,344.1 244.9,342.1 245.4,340.2 245.9,338.3 246.4,336.3 247.0,334.4 247.7,332.5 248.4,330.7 249.1,328.8 250.0,327.0 250.8,325.2 251.7,323.4 252.7,321.7 253.7,320.0 254.8,318.3 255.9,316.6 257.0,315.0 258.2,313.4 259.5,311.8 260.8,310.3 262.1,308.7 263.4,307.2 264.7,305.8 266.1,304.3 267.5,302.9 268.9,301.5 270.4,300.1 271.8,298.7 273.3,297.3 274.8,296.0 276.3,294.7 277.8,293.4 279.3,292.1 280.9,290.9 282.5,289.6 284.1,288.4 285.7,287.2 287.3,286.0 288.9,284.8 290.5,283.7 292.2,282.5 293.8,281.3 295.4,280.2 297.1,279.1 298.8,278.0 300.4,276.9 302.1,275.7 303.8,274.6 305.5,273.6 307.1,272.5 308.8,271.4 310.5,270.3 312.2,269.2 313.9,268.1 315.6,267.1 317.3,266.0 319.0,265.0 320.7,264.0 322.5,263.0 324.2,262.1 326.0,261.2 327.8,260.3 329.6,259.4 331.4,258.6 333.3,257.7 335.1,256.9 336.9,256.1 338.7,255.3 340.6,254.5 342.4,253.7 344.3,252.9 346.1,252.1 347.9,251.3 349.8,250.5 351.6,249.7 353.4,248.9 355.3,248.1 357.1,247.3 358.9,246.5 360.8,245.6 362.6,244.8 364.4,244.0 366.2,243.1 368.0,242.3 369.8,241.4 371.6,240.5 373.4,239.7 375.2,238.8 377.1,237.9 378.9,237.1 380.7,236.3 382.5,235.5 384.4,234.7 386.2,233.9 388.1,233.2 390.0,232.5 391.8,231.7 393.7,231.0 395.5,230.3 397.4,229.5 399.3,228.8 401.1,228.0 403.0,227.3 404.8,226.5 406.7,225.8 408.6,225.0 410.4,224.3 412.3,223.6 414.2,222.8 416.0,222.1 417.9,221.4 419.8,220.8 421.7,220.1 423.6,219.4 425.4,218.8 427.3,218.1 429.2,217.4 431.1,216.8 433.0,216.1 434.9,215.5 436.8,214.8 438.7,214.2 440.6,213.5 442.5,212.8 444.4,212.2 446.3,211.5 448.1,210.8 450.0,210.2 451.9,209.5 453.8,208.9 455.7,208.2 457.6,207.5 459.5,206.8 461.4,206.2 463.3,205.5 465.2,204.9 467.0,204.2 468.9,203.6 470.9,203.0 472.8,202.4 474.7,201.7 476.6,201.2 478.5,200.6 480.4,200.0 482.3,199.4 484.3,198.9 486.2,198.3 488.1,197.8 490.0,197.3 492.0,196.7 493.9,196.2 495.9,195.7 497.8,195.2 499.7,194.8 501.7,194.3 503.6,193.9 505.6,193.4 507.6,193.0 509.5,192.6 511.5,192.2 513.5,191.9 515.4,191.5 517.4,191.2 519.4,190.9 521.4,190.6 523.4,190.4 525.3,190.1 527.3,189.9 529.3,189.7 531.3,189.6 533.3,189.4 535.3,189.3 537.3,189.2 539.3,189.1 541.3,189.0 543.3,188.9 545.3,188.9 547.3,188.8 549.3,188.7 551.3,188.7 553.3,188.7 555.3,188.7 557.3,188.7 559.3,188.7 561.3,188.7 563.3,188.7 565.3,188.7 567.4,188.8 569.4,188.8 571.4,188.8 573.4,188.9 575.4,188.9 577.4,189.0 579.4,189.0 581.4,189.1 583.4,189.1 585.4,189.2 587.4,189.2 589.4,189.3 591.4,189.4 593.4,189.4 595.4,189.5 597.4,189.6 599.4,189.6 601.4,189.7 603.4,189.8 605.4,189.9 607.4,189.9 609.4,190.0 611.4,190.1 613.4,190.2 615.4,190.2 617.4,190.3 619.4,190.4 621.4,190.5 623.4,190.6 625.4,190.6 627.4,190.7 629.4,190.8 631.4,190.9 633.4,191.0 635.4,191.1 637.4,191.2 639.4,191.2 641.4,191.3 643.4,191.4 645.4,191.5 647.4,191.5 649.4,191.6 651.4,191.7 653.4,191.7 655.4,191.7 657.4,191.8 659.4,191.8 661.4,191.8 663.4,191.8 665.4,191.8 667.4,191.8 669.4,191.7 671.5,191.7 673.5,191.7 675.5,191.6 677.5,191.6 679.5,191.5 681.5,191.5 683.5,191.4 685.5,191.3 687.5,191.3 689.5,191.2 691.5,191.1 693.5,191.0 695.5,190.9 697.5,190.8 699.5,190.7 701.5,190.6 703.5,190.4 705.5,190.3 707.5,190.2 709.5,190.0 711.5,189.9 713.5,189.7 715.5,189.6 717.5,189.5 719.5,189.4 721.5,189.2 723.5,189.1 725.5,189.0 727.5,188.9 729.5,188.8 731.5,188.7 733.5,188.6 735.5,188.5 737.5,188.4 739.5,188.3 741.5,188.2 743.5,188.1 745.5,188.0 747.5,187.9 749.5,187.8 751.5,187.7 753.5,187.6 755.5,187.5 757.5,187.4 759.5,187.3 761.5,187.2 763.5,187.1 765.5,187.0 767.5,186.9 769.5,186.9 771.5,186.8 773.5,186.7 775.5,186.6 777.5,186.5 779.5,186.4 781.5,186.3 783.5,186.2 785.5,186.1 787.5,186.0 789.5,185.9 791.5,185.8 793.5,185.6 795.5,185.5 797.5,185.4 799.5,185.3 801.5,185.1 803.5,185.0 805.5,184.9 807.5,184.7 809.5,184.6 811.5,184.5 813.5,184.3 815.5,184.2 817.5,184.0 819.5,183.9 821.4,183.7 823.4,183.6 825.4,183.4 827.4,183.2 829.4,183.1 831.4,182.9 833.4,182.8 835.4,182.6 837.4,182.4 839.4,182.3 841.4,182.1 843.4,182.0 845.4,181.8 847.4,181.7 849.4,181.5 851.4,181.3 853.4,181.2 855.4,181.0 857.4,180.8 859.4,180.6 861.4,180.4 863.4,180.2 865.3,179.9 867.3,179.6 869.3,179.3 871.3,178.9 873.2,178.5 875.2,178.0 877.1,177.5 879.0,177.0 880.9,176.4 882.8,175.7 884.6,174.9 886.4,174.1 888.2,173.2 889.9,172.2 891.6,171.2 893.3,170.1 895.0,169.0 895.8,168.4 L895.8,168.4 895.8,170.4 895.8,172.4 895.8,174.4 895.8,176.4 895.9,178.4 895.9,180.4 895.9,182.4 895.9,184.4 895.9,186.4 895.9,188.4 895.9,190.4 895.9,192.4 896.0,194.5 896.0,196.5 896.0,198.5 896.0,200.5 896.0,202.5 896.0,204.5 896.0,206.5 896.0,208.5 896.1,210.5 896.1,212.5 896.1,214.5 896.1,216.5 896.1,218.5 896.1,220.5 896.1,222.5 896.1,224.5 896.1,226.5 896.2,228.5 896.2,230.5 896.2,232.5 896.2,234.5 896.2,236.5 896.2,238.5 896.2,240.5 896.2,242.6 896.3,244.6 896.3,246.6 896.3,248.6 896.3,250.6 896.3,252.6 896.3,254.6 896.3,256.6 896.3,258.6 896.4,260.6 896.4,262.6 896.4,264.6 896.4,266.6 896.4,268.6 896.4,270.6 896.4,272.6 896.4,274.6 896.5,276.6 896.5,278.6 896.5,280.6 896.5,282.6 896.5,284.6 896.5,286.6 896.5,288.6 896.5,290.6 896.6,292.7 896.6,294.7 896.6,296.7 896.6,298.7 896.6,300.7 896.6,302.7 896.6,304.7 896.6,306.7 896.6,308.7 896.7,310.7 896.7,312.7 896.7,314.7 896.7,316.7 896.7,318.7 896.7,320.7 896.7,322.7 896.7,324.7 896.7,326.7 896.8,328.7 896.8,330.7 896.8,332.7 896.8,334.7 896.8,336.7 896.8,338.7 896.8,340.7 896.8,342.8 896.8,344.8 896.8,346.8 896.9,348.8 896.9,350.8 896.9,352.8 896.9,354.8 896.9,356.8 896.9,358.8 896.9,360.8 896.9,362.8 897.0,364.8 897.0,366.8 897.0,368.8 897.0,370.8 897.0,372.8 897.0,374.8 896.9,376.8 896.8,378.8 896.6,380.8 896.4,382.8 896.2,384.8 896.0,386.8 895.7,388.8 895.4,390.7 895.0,392.7 894.7,394.7 894.3,396.6 893.9,398.6 893.5,400.6 893.0,402.5 892.6,404.5 892.1,406.4 891.6,408.4 891.0,410.3 890.5,412.2 889.9,414.1 889.2,416.0 888.6,417.9 887.8,419.8 887.1,421.6 886.3,423.4 885.4,425.3 884.6,427.1 883.6,428.8 882.6,430.6 881.6,432.3 880.5,434.0 879.4,435.6 878.2,437.2 877.0,438.8 875.7,440.3 874.4,441.8 873.0,443.3 871.6,444.7 870.1,446.0 868.6,447.3 867.1,448.6 865.4,449.7 863.8,450.8 862.1,451.9 860.3,452.9 858.6,453.9 856.8,454.8 855.0,455.7 853.2,456.6 851.4,457.4 849.6,458.3 847.8,459.1 845.9,459.9 844.1,460.6 842.2,461.4 840.3,462.1 838.5,462.8 836.6,463.5 834.7,464.1 832.8,464.8 830.9,465.4 829.0,466.0 827.1,466.6 825.2,467.2 823.2,467.7 821.3,468.3 819.4,468.8 817.4,469.4 815.5,469.9 813.6,470.4 811.6,470.9 809.7,471.5 807.8,472.0 805.8,472.5 803.9,473.0 801.9,473.4 800.0,473.9 798.0,474.3 796.1,474.6 794.1,475.0 792.1,475.3 790.1,475.6 788.1,475.9 786.2,476.1 784.2,476.4 782.2,476.7 780.2,477.0 778.2,477.3 776.2,477.6 774.3,477.9 772.3,478.2 770.3,478.5 768.3,478.8 766.3,479.1 764.3,479.3 762.4,479.6 760.4,479.9 758.4,480.2 756.4,480.5 754.4,480.8 752.5,481.1 750.5,481.4 748.5,481.7 746.5,482.0 744.5,482.3 742.5,482.6 740.6,482.9 738.6,483.2 736.6,483.5 734.6,483.7 732.6,484.0 730.6,484.2 728.6,484.5 726.7,484.8 724.7,485.0 722.7,485.3 720.7,485.5 718.7,485.7 716.7,486.0 714.7,486.2 712.7,486.5 710.7,486.7 708.7,486.9 706.8,487.2 704.8,487.4 702.8,487.7 700.8,487.9 698.8,488.2 696.8,488.5 694.8,488.8 692.9,489.0 690.9,489.3 688.9,489.6 686.9,489.9 684.9,490.2 682.9,490.5 681.0,490.8 679.0,491.1 677.0,491.4 675.0,491.7 673.0,492.0 671.0,492.3 669.1,492.5 667.1,492.8 665.1,493.2 663.1,493.5 661.2,493.9 659.2,494.3 657.2,494.7 655.3,495.1 653.3,495.6 651.4,496.1 649.5,496.6 647.5,497.1 645.6,497.6 643.6,498.1 641.7,498.5 639.7,499.0 637.8,499.4 635.8,499.9 633.9,500.3 631.9,500.7 629.9,501.1 628.0,501.5 626.0,501.8 624.0,502.2 622.1,502.6 620.1,503.0 618.1,503.3 616.2,503.7 614.2,504.1 612.2,504.5 610.3,504.9 608.3,505.3 606.4,505.8 604.4,506.3 602.5,506.7 600.5,507.2 598.6,507.7 596.6,508.2 594.7,508.7 592.7,509.2 590.8,509.7 588.9,510.2 586.9,510.6 585.0,511.1 583.0,511.5 581.0,511.9 579.1,512.4 577.1,512.8 575.2,513.2 573.2,513.7 571.3,514.1 569.3,514.5 567.3,514.9 565.4,515.4 563.4,515.8 561.5,516.3 559.5,516.7 557.6,517.2 555.6,517.6 553.7,518.1 551.7,518.5 549.8,519.0 547.8,519.4 545.8,519.8 543.9,520.2 541.9,520.7 540.0,521.1 538.0,521.5 536.0,521.9 534.1,522.3 532.1,522.7 530.1,523.0 528.2,523.4 526.2,523.8 524.2,524.1 522.2,524.4 520.3,524.8 518.3,525.1 516.3,525.4 514.3,525.7 512.3,526.0 510.4,526.3 508.4,526.6 506.4,526.9 504.4,527.1 502.4,527.4 500.4,527.6 498.4,527.8 496.4,528.1 494.5,528.3 492.5,528.5 490.5,528.6 488.5,528.8 486.5,529.0 484.5,529.2 482.5,529.3 480.5,529.5 478.5,529.6 476.5,529.7 474.5,529.9 472.5,530.0 470.5,530.1 468.5,530.1 466.5,530.2 464.5,530.2 462.5,530.2 460.5,530.2 458.5,530.1 456.5,530.0 454.5,529.9 452.5,529.8 450.5,529.7 448.5,529.5 446.5,529.3 444.5,529.2 442.5,529.0 440.5,528.9 438.5,528.7 436.5,528.6 434.5,528.4 432.5,528.3 430.5,528.1 428.5,527.9 426.5,527.8 424.5,527.6 422.5,527.4 420.5,527.2 418.5,526.9 416.5,526.7 414.5,526.4 412.6,526.2 410.6,525.9 408.6,525.6 406.6,525.4 404.6,525.2 402.6,525.1 400.6,525.0 398.6,524.9 396.6,524.9 394.6,524.9 392.6,524.9 390.6,524.9 388.6,524.9 386.6,524.9 384.6,525.0 382.6,525.0 380.6,525.0 378.6,525.0 376.6,525.0 374.6,525.0 372.6,525.0 370.6,525.0 368.5,525.0 366.5,525.0 364.5,525.0 362.5,525.0 360.5,525.0 358.5,525.0 356.5,525.0 354.5,525.0 352.5,525.0 350.5,525.0 348.5,525.0 346.5,525.0 344.5,525.0 342.5,525.0 340.5,525.0 338.5,525.0 336.5,525.0 334.5,525.0 332.5,524.9 330.5,524.9 328.5,524.9 326.5,524.9 324.5,525.0 322.5,525.0 320.5,525.0 318.4,525.1 316.4,525.2 314.4,525.2 312.4,525.3 310.4,525.4 308.4,525.6 306.4,525.7 304.4,525.8 302.4,526.0 300.4,526.2 298.5,526.3 296.5,526.5 294.5,526.7 292.5,526.9 290.5,527.1 288.5,527.4 286.5,527.6 284.5,527.8 282.5,528.1 280.5,528.4 278.6,528.7 276.6,529.0 274.6,529.3 272.6,529.7 270.7,530.0 268.7,530.4 266.7,530.8 264.8,531.2 262.8,531.6 260.8,532.0 258.9,532.5 256.9,533.0 255.0,533.4 253.0,533.9 251.1,534.4 249.2,534.9 247.2,535.5 245.3,536.0 243.4,536.6 241.5,537.1 239.5,537.7 237.6,538.2 " fill="none" stroke="#1262d9" stroke-width="4.4" stroke-linejoin="round" stroke-linecap="round"/>
<path d="M236.0,557.0 236.0,555.0 236.1,553.0 236.1,551.0 236.1,549.0 236.1,547.0 236.2,545.0 236.2,543.0 236.2,541.0 236.2,539.0 236.3,537.0 236.3,535.0 236.3,533.0 236.3,531.0 236.4,529.0 236.4,526.9 236.4,524.9 236.5,522.9 236.5,520.9 236.5,518.9 236.5,516.9 236.6,514.9 236.6,512.9 236.6,510.9 236.7,508.9 236.7,506.9 236.7,504.9 236.7,502.9 236.8,500.9 236.8,498.9 236.8,496.9 236.9,494.9 236.9,492.9 236.9,490.9 237.0,488.9 237.0,486.9 237.0,484.9 237.0,482.9 237.1,480.9 237.1,478.9 237.1,476.9 237.2,474.9 237.2,472.9 237.2,470.9 237.3,468.9 237.3,466.8 237.3,464.8 237.3,462.8 237.4,460.8 237.4,458.8 237.4,456.8 237.5,454.8 237.5,452.8 237.5,450.8 237.6,448.8 237.6,446.8 237.6,444.8 237.7,442.8 237.7,440.8 237.7,438.8 237.8,436.8 237.8,434.8 237.8,432.8 237.9,430.8 237.9,428.8 237.9,426.8 237.9,424.8 238.0,422.8 238.0,420.8 238.0,418.8 238.0,416.8 238.1,414.8 238.1,412.8 238.1,410.8 238.2,408.8 238.3,406.7 238.3,404.7 238.4,402.7 238.5,400.7 238.6,398.7 238.7,396.7 238.8,394.7 238.9,392.7 239.1,390.7 239.2,388.7 239.3,386.7 239.4,384.7 239.6,382.7 239.7,380.7 239.9,378.7 240.0,376.7 240.2,374.8 240.4,372.8 240.6,370.8 240.7,368.8 240.9,366.8 241.1,364.8 241.4,362.8 241.6,360.8 241.8,358.8 242.1,356.8 242.3,354.8 242.6,352.9 242.9,350.9 243.2,348.9 243.5,346.9 243.9,344.9 244.3,343.0 244.7,341.0 245.1,339.1 245.6,337.1 246.1,335.2 246.6,333.2 247.2,331.3 247.8,329.4 248.4,327.5 249.1,325.6 249.8,323.8 250.5,321.9 251.3,320.1 252.1,318.2 253.0,316.4 253.9,314.6 254.8,312.9 255.8,311.1 256.9,309.4 257.9,307.8 259.1,306.1 260.3,304.5 261.5,303.0 262.8,301.4 264.2,300.0 265.6,298.6 267.0,297.2 268.5,295.8 270.0,294.5 271.6,293.3 273.1,292.0 274.7,290.7 276.2,289.5 277.8,288.3 279.4,287.1 281.0,285.9 282.7,284.7 284.3,283.5 285.9,282.4 287.6,281.2 289.2,280.1 290.9,279.0 292.6,278.0 294.3,276.9 296.0,275.9 297.7,274.8 299.5,273.8 301.2,272.8 302.9,271.8 304.6,270.8 306.4,269.7 308.1,268.7 309.8,267.7 311.5,266.6 313.2,265.6 314.9,264.5 316.6,263.5 318.4,262.5 320.1,261.5 321.9,260.5 323.6,259.6 325.4,258.6 327.2,257.7 329.0,256.8 330.7,255.9 332.5,255.0 334.3,254.1 336.2,253.3 338.0,252.4 339.8,251.6 341.6,250.7 343.4,249.9 345.2,249.1 347.1,248.2 348.9,247.4 350.7,246.6 352.5,245.8 354.4,245.0 356.2,244.2 358.0,243.4 359.9,242.5 361.7,241.7 363.5,240.9 365.3,240.0 367.1,239.1 368.9,238.2 370.7,237.3 372.5,236.4 374.2,235.5 376.0,234.6 377.8,233.7 379.6,232.8 381.5,232.0 383.3,231.2 385.2,230.5 387.0,229.7 388.9,229.0 390.8,228.3 392.7,227.6 394.5,226.9 396.4,226.3 398.3,225.6 400.2,224.9 402.1,224.2 404.0,223.6 405.9,222.9 407.7,222.2 409.6,221.6 411.5,220.9 413.4,220.3 415.3,219.7 417.2,219.0 419.2,218.4 421.1,217.8 423.0,217.3 424.9,216.7 426.8,216.1 428.7,215.5 430.7,215.0 432.6,214.4 434.5,213.8 436.4,213.3 438.3,212.7 440.3,212.1 442.2,211.5 444.1,210.9 446.0,210.4 447.9,209.8 449.9,209.2 451.8,208.7 453.7,208.2 455.7,207.6 457.6,207.1 459.5,206.6 461.5,206.2 463.4,205.7 465.4,205.2 467.3,204.7 469.3,204.3 471.2,203.9 473.2,203.4 475.1,203.0 477.1,202.6 479.1,202.2 481.0,201.8 483.0,201.4 485.0,201.1 486.9,200.7 488.9,200.4 490.9,200.0 492.9,199.7 494.9,199.4 496.8,199.1 498.8,198.8 500.8,198.5 502.8,198.2 504.8,198.0 506.8,197.7 508.7,197.5 510.7,197.2 512.7,197.0 514.7,196.8 516.7,196.6 518.7,196.4 520.7,196.3 522.7,196.2 524.7,196.1 526.7,196.0 528.7,196.0 530.7,196.0 532.7,196.0 534.7,196.0 536.7,196.0 538.7,196.1 540.7,196.1 542.7,196.2 544.7,196.3 546.7,196.3 548.7,196.4 550.7,196.4 552.7,196.4 554.7,196.5 556.7,196.5 558.7,196.6 560.7,196.6 562.8,196.6 564.8,196.7 566.8,196.7 568.8,196.8 570.8,196.8 572.8,196.9 574.8,196.9 576.8,197.0 578.8,197.0 580.8,197.1 582.8,197.1 584.8,197.2 586.8,197.2 588.8,197.3 590.8,197.4 592.8,197.4 594.8,197.5 596.8,197.6 598.8,197.7 600.8,197.8 602.8,197.8 604.8,197.9 606.8,198.0 608.8,198.1 610.8,198.2 612.8,198.3 614.8,198.3 616.8,198.4 618.8,198.5 620.8,198.6 622.8,198.6 624.8,198.7 626.8,198.8 628.8,198.8 630.8,198.9 632.8,199.0 634.8,199.0 636.8,199.1 638.8,199.1 640.8,199.2 642.9,199.3 644.9,199.3 646.9,199.4 648.9,199.4 650.9,199.4 652.9,199.4 654.9,199.5 656.9,199.5 658.9,199.5 660.9,199.5 662.9,199.4 664.9,199.4 666.9,199.4 668.9,199.3 670.9,199.3 672.9,199.2 674.9,199.1 676.9,199.1 678.9,199.0 680.9,198.9 682.9,198.9 684.9,198.8 686.9,198.8 688.9,198.7 690.9,198.7 692.9,198.7 694.9,198.6 696.9,198.6 698.9,198.6 700.9,198.7 702.9,198.7 704.9,198.7 707.0,198.7 709.0,198.8 711.0,198.8 713.0,198.8 715.0,198.8 717.0,198.8 719.0,198.8 721.0,198.7 723.0,198.7 725.0,198.6 727.0,198.5 729.0,198.4 731.0,198.3 733.0,198.2 735.0,198.1 737.0,198.0 739.0,197.9 741.0,197.8 743.0,197.7 745.0,197.6 747.0,197.4 749.0,197.3 751.0,197.2 753.0,197.1 755.0,197.0 757.0,197.0 759.0,196.9 761.0,196.8 763.0,196.7 765.0,196.7 767.0,196.6 769.0,196.6 771.0,196.5 773.0,196.5 775.0,196.4 777.0,196.4 779.0,196.4 781.0,196.3 783.0,196.3 785.0,196.2 787.0,196.2 789.0,196.2 791.0,196.1 793.0,196.1 795.0,196.0 797.1,196.0 799.1,195.9 801.1,195.9 803.1,195.9 805.1,195.9 807.1,195.8 809.1,195.8 811.1,195.8 813.1,195.8 815.1,195.7 817.1,195.7 819.1,195.6 821.1,195.6 823.1,195.5 825.1,195.5 827.1,195.4 829.1,195.3 831.1,195.2 833.1,195.0 835.1,194.9 837.1,194.7 839.1,194.6 841.1,194.4 843.1,194.2 845.1,194.0 847.1,193.8 849.1,193.5 851.0,193.3 853.0,193.0 855.0,192.7 857.0,192.3 858.9,191.9 860.9,191.4 862.8,191.0 864.7,190.4 866.6,189.8 868.5,189.2 870.4,188.5 872.3,187.8 874.1,187.1 876.0,186.2 877.8,185.4 879.5,184.4 881.2,183.4 882.9,182.3 884.6,181.2 886.2,180.0 887.7,178.8 889.2,177.5 890.7,176.1 892.2,174.8 893.6,173.4 895.1,172.0 895.8,171.3 L895.8,171.3 895.8,173.3 895.8,175.3 895.8,177.3 895.8,179.3 895.8,181.3 895.8,183.3 895.8,185.3 895.8,187.3 895.8,189.3 895.8,191.3 895.8,193.3 895.8,195.3 895.8,197.3 895.8,199.3 895.8,201.3 895.8,203.4 895.9,205.4 895.9,207.4 895.9,209.4 895.9,211.4 895.9,213.4 895.9,215.4 895.9,217.4 895.9,219.4 895.9,221.4 895.9,223.4 895.9,225.4 895.9,227.4 895.9,229.4 896.0,231.4 896.0,233.4 896.0,235.4 896.0,237.4 896.0,239.4 896.0,241.4 896.0,243.4 896.0,245.4 896.0,247.4 896.0,249.4 896.0,251.4 896.1,253.4 896.1,255.4 896.1,257.4 896.1,259.4 896.1,261.4 896.1,263.4 896.1,265.5 896.1,267.5 896.1,269.5 896.1,271.5 896.1,273.5 896.1,275.5 896.2,277.5 896.2,279.5 896.2,281.5 896.2,283.5 896.2,285.5 896.2,287.5 896.2,289.5 896.2,291.5 896.2,293.5 896.2,295.5 896.2,297.5 896.2,299.5 896.2,301.5 896.2,303.5 896.2,305.5 896.2,307.5 896.2,309.5 896.2,311.5 896.2,313.5 896.2,315.5 896.2,317.5 896.2,319.5 896.2,321.5 896.2,323.5 896.2,325.5 896.2,327.6 896.2,329.6 896.2,331.6 896.2,333.6 896.2,335.6 896.2,337.6 896.1,339.6 896.1,341.6 896.1,343.6 896.1,345.6 896.1,347.6 896.0,349.6 896.0,351.6 896.0,353.6 895.9,355.6 895.9,357.6 895.8,359.6 895.7,361.6 895.7,363.6 895.6,365.6 895.4,367.6 895.3,369.6 895.1,371.6 894.9,373.6 894.7,375.6 894.5,377.6 894.2,379.6 894.0,381.5 893.7,383.5 893.5,385.5 893.2,387.5 892.9,389.5 892.6,391.5 892.3,393.4 891.9,395.4 891.5,397.4 891.1,399.3 890.6,401.3 890.1,403.2 889.5,405.1 888.9,407.0 888.3,408.9 887.6,410.8 886.9,412.7 886.1,414.5 885.3,416.3 884.5,418.2 883.6,420.0 882.7,421.7 881.7,423.5 880.7,425.2 879.7,426.9 878.6,428.6 877.5,430.3 876.3,431.9 875.1,433.5 873.9,435.1 872.6,436.6 871.3,438.1 869.9,439.6 868.5,441.0 867.1,442.4 865.6,443.7 864.1,445.0 862.5,446.3 861.0,447.5 859.3,448.7 857.7,449.8 856.0,450.9 854.3,451.9 852.5,452.9 850.8,453.8 849.0,454.7 847.2,455.5 845.3,456.3 843.5,457.1 841.6,457.8 839.7,458.5 837.9,459.2 836.0,459.8 834.1,460.5 832.2,461.1 830.2,461.7 828.3,462.2 826.4,462.8 824.5,463.3 822.5,463.8 820.6,464.3 818.6,464.7 816.7,465.2 814.7,465.6 812.8,466.0 810.8,466.4 808.8,466.8 806.9,467.2 804.9,467.5 802.9,467.9 801.0,468.3 799.0,468.6 797.0,469.0 795.0,469.3 793.1,469.7 791.1,470.1 789.1,470.4 787.2,470.8 785.2,471.1 783.2,471.4 781.2,471.7 779.2,472.0 777.3,472.3 775.3,472.6 773.3,472.8 771.3,473.0 769.3,473.3 767.3,473.5 765.3,473.8 763.3,474.0 761.4,474.3 759.4,474.6 757.4,474.9 755.4,475.2 753.5,475.6 751.5,475.9 749.5,476.3 747.5,476.7 745.6,477.0 743.6,477.4 741.6,477.7 739.6,478.0 737.7,478.2 735.7,478.5 733.7,478.7 731.7,478.9 729.7,479.1 727.7,479.3 725.7,479.5 723.7,479.7 721.7,479.8 719.7,480.0 717.7,480.2 715.7,480.4 713.7,480.6 711.7,480.8 709.8,481.0 707.8,481.2 705.8,481.4 703.8,481.6 701.8,481.8 699.8,482.0 697.8,482.3 695.8,482.5 693.8,482.7 691.8,483.0 689.8,483.2 687.9,483.4 685.9,483.7 683.9,483.9 681.9,484.2 679.9,484.4 677.9,484.6 675.9,484.9 673.9,485.1 671.9,485.4 670.0,485.6 668.0,485.9 666.0,486.2 664.0,486.4 662.0,486.7 660.0,487.1 658.1,487.4 656.1,487.7 654.1,488.1 652.2,488.5 650.2,488.9 648.2,489.3 646.3,489.7 644.3,490.1 642.4,490.5 640.4,490.9 638.4,491.3 636.5,491.7 634.5,492.1 632.5,492.5 630.6,492.8 628.6,493.2 626.6,493.6 624.7,494.0 622.7,494.5 620.8,494.9 618.8,495.3 616.9,495.8 614.9,496.3 613.0,496.8 611.0,497.3 609.1,497.8 607.2,498.3 605.2,498.7 603.3,499.2 601.3,499.7 599.4,500.2 597.4,500.7 595.5,501.2 593.5,501.6 591.6,502.1 589.7,502.6 587.7,503.1 585.8,503.5 583.8,504.0 581.9,504.5 579.9,504.9 578.0,505.4 576.0,505.8 574.1,506.3 572.1,506.7 570.2,507.2 568.2,507.6 566.2,508.1 564.3,508.5 562.3,508.9 560.4,509.4 558.4,509.8 556.5,510.2 554.5,510.7 552.6,511.1 550.6,511.5 548.6,511.9 546.7,512.3 544.7,512.8 542.8,513.2 540.8,513.6 538.8,514.0 536.9,514.3 534.9,514.7 532.9,515.1 531.0,515.5 529.0,515.9 527.0,516.3 525.1,516.7 523.1,517.1 521.2,517.5 519.2,517.9 517.2,518.3 515.3,518.7 513.3,519.1 511.3,519.5 509.4,519.9 507.4,520.2 505.4,520.6 503.5,520.9 501.5,521.2 499.5,521.5 497.5,521.7 495.5,522.0 493.5,522.2 491.5,522.4 489.5,522.7 487.6,522.9 485.6,523.1 483.6,523.4 481.6,523.6 479.6,523.9 477.6,524.1 475.6,524.4 473.6,524.6 471.7,524.9 469.7,525.2 467.7,525.4 465.7,525.6 463.7,525.9 461.7,526.1 459.7,526.3 457.7,526.5 455.7,526.6 453.7,526.8 451.7,526.9 449.7,527.1 447.7,527.2 445.7,527.3 443.7,527.4 441.7,527.5 439.7,527.6 437.7,527.7 435.7,527.8 433.7,527.9 431.7,527.9 429.7,528.0 427.7,528.0 425.7,528.1 423.7,528.1 421.7,528.2 419.7,528.2 417.7,528.2 415.7,528.3 413.7,528.3 411.7,528.3 409.7,528.3 407.7,528.4 405.7,528.4 403.7,528.4 401.7,528.4 399.7,528.5 397.7,528.5 395.7,528.5 393.7,528.6 391.7,528.6 389.7,528.7 387.7,528.7 385.7,528.7 383.7,528.8 381.7,528.8 379.7,528.9 377.6,528.9 375.6,528.9 373.6,529.0 371.6,529.0 369.6,529.0 367.6,529.1 365.6,529.1 363.6,529.2 361.6,529.2 359.6,529.2 357.6,529.3 355.6,529.3 353.6,529.4 351.6,529.4 349.6,529.5 347.6,529.6 345.6,529.6 343.6,529.7 341.6,529.8 339.6,529.8 337.6,529.9 335.6,530.0 333.6,530.1 331.6,530.2 329.6,530.3 327.6,530.4 325.6,530.5 323.6,530.6 321.6,530.8 319.6,531.0 317.6,531.2 315.6,531.4 313.6,531.6 311.6,531.9 309.7,532.2 307.7,532.4 305.7,532.8 303.7,533.1 301.8,533.4 299.8,533.8 297.8,534.2 295.9,534.6 293.9,535.0 291.9,535.4 290.0,535.9 288.1,536.4 286.1,536.9 284.2,537.4 282.3,537.9 280.3,538.5 278.4,539.1 276.5,539.7 274.6,540.4 272.7,541.1 270.9,541.8 269.0,542.5 267.1,543.2 265.3,544.0 263.4,544.8 261.6,545.5 259.7,546.3 257.9,547.1 256.1,547.9 254.2,548.7 252.4,549.5 250.6,550.3 248.7,551.2 246.9,552.0 245.1,552.8 243.3,553.7 241.5,554.5 239.6,555.3 237.8,556.2 236.0,557.0 " fill="none" stroke="#2ba35e" stroke-width="4.4" stroke-linejoin="round" stroke-linecap="round"/>
<line x1="237.6" y1="538" x2="237.6" y2="434" stroke="#1262d9" stroke-width="4.6"/>
<line x1="236.5" y1="577" x2="236.5" y2="541" stroke="#ee3437" stroke-width="4.4"/>

</g>
<g stroke="#000" stroke-width="2.6" fill="none" stroke-linecap="butt">
<rect x="132" y="12" width="857" height="692"/>
<line x1="119" y1="704.0" x2="132" y2="704.0"/><line x1="126" y1="660.8" x2="132" y2="660.8"/><line x1="119" y1="617.5" x2="132" y2="617.5"/><line x1="126" y1="574.2" x2="132" y2="574.2"/><line x1="119" y1="531.0" x2="132" y2="531.0"/><line x1="126" y1="487.8" x2="132" y2="487.8"/><line x1="119" y1="444.5" x2="132" y2="444.5"/><line x1="126" y1="401.2" x2="132" y2="401.2"/><line x1="119" y1="358.0" x2="132" y2="358.0"/><line x1="126" y1="314.8" x2="132" y2="314.8"/><line x1="119" y1="271.5" x2="132" y2="271.5"/><line x1="126" y1="228.2" x2="132" y2="228.2"/><line x1="119" y1="185.0" x2="132" y2="185.0"/><line x1="126" y1="141.8" x2="132" y2="141.8"/><line x1="119" y1="98.5" x2="132" y2="98.5"/><line x1="126" y1="55.2" x2="132" y2="55.2"/><line x1="119" y1="12.0" x2="132" y2="12.0"/><line x1="132.0" y1="704" x2="132.0" y2="717"/><line x1="197.9" y1="704" x2="197.9" y2="710"/><line x1="263.8" y1="704" x2="263.8" y2="717"/><line x1="329.8" y1="704" x2="329.8" y2="710"/><line x1="395.7" y1="704" x2="395.7" y2="717"/><line x1="461.6" y1="704" x2="461.6" y2="710"/><line x1="527.5" y1="704" x2="527.5" y2="717"/><line x1="593.5" y1="704" x2="593.5" y2="710"/><line x1="659.4" y1="704" x2="659.4" y2="717"/><line x1="725.3" y1="704" x2="725.3" y2="710"/><line x1="791.2" y1="704" x2="791.2" y2="717"/><line x1="857.2" y1="704" x2="857.2" y2="710"/><line x1="923.1" y1="704" x2="923.1" y2="717"/><line x1="989.0" y1="704" x2="989.0" y2="710"/>
</g>
<g font-size="31"><text x="64.8 79.6 94.0" y="715.6">0.8</text><rect x="51.2" y="704.2" width="12.4" height="1.6" fill="#666"/><text x="64.8 79.6 94.0" y="629.1">0.6</text><rect x="51.2" y="617.7" width="12.4" height="1.6" fill="#666"/><text x="64.8 79.6 94.0" y="542.6">0.4</text><rect x="51.2" y="531.2" width="12.4" height="1.6" fill="#666"/><text x="64.8 79.6 94.0" y="456.1">0.2</text><rect x="51.2" y="444.7" width="12.4" height="1.6" fill="#666"/><text x="64.8 79.6 94.0" y="369.6">0.0</text><text x="64.8 79.6 94.0" y="283.1">0.2</text><text x="64.8 79.6 94.0" y="196.6">0.4</text><text x="64.8 79.6 94.0" y="110.1">0.6</text><text x="64.8 79.6 94.0" y="23.6">0.8</text></g>
<g font-size="30"><text x="132.5" y="751" text-anchor="middle">0</text><text x="264.3" y="751" text-anchor="middle">200</text><text x="396.2" y="751" text-anchor="middle">400</text><text x="528.0" y="751" text-anchor="middle">600</text><text x="659.9" y="751" text-anchor="middle">800</text><text x="791.7" y="751" text-anchor="middle">1000</text><text x="923.6" y="751" text-anchor="middle">1200</text></g>
<text x="0" y="0" font-size="36.5" transform="translate(36,447) rotate(-90)">j (mA&#183;cm<tspan dy="-16" font-size="24">-2</tspan><tspan dy="16">)</tspan></text>
<text x="507" y="801" font-size="36.5">E (mV)</text>
<text class="bd" x="151.3" y="267" font-size="72" font-weight="bold">(a)</text>
<g class="lg" font-size="29.5" letter-spacing="-0.1"><line x1="138.6" y1="37.2" x2="202.2" y2="37.2" stroke="#474747" stroke-width="4.6" stroke-linecap="round"/><text x="210" y="47.5">Ti/IrO<tspan dy="7" font-size="20">2</tspan><tspan dy="-7">​</tspan>-Ta<tspan dy="7" font-size="20">2</tspan><tspan dy="-7">​</tspan>O<tspan dy="7" font-size="20">5</tspan><tspan dy="-7">​</tspan></text><line x1="138.6" y1="78.6" x2="202.2" y2="78.6" stroke="#ee3437" stroke-width="4.6" stroke-linecap="round"/><text x="210" y="88.9">Ti/TaO<tspan dy="7" font-size="20">x</tspan><tspan dy="-7">​</tspan>#1/IrO<tspan dy="7" font-size="20">2</tspan><tspan dy="-7">​</tspan>-Ta<tspan dy="7" font-size="20">2</tspan><tspan dy="-7">​</tspan>O<tspan dy="7" font-size="20">5</tspan><tspan dy="-7">​</tspan></text><line x1="138.6" y1="120.0" x2="202.2" y2="120.0" stroke="#1262d9" stroke-width="4.6" stroke-linecap="round"/><text x="210" y="130.3">Ti/TaO<tspan dy="7" font-size="20">x</tspan><tspan dy="-7">​</tspan>#3/IrO<tspan dy="7" font-size="20">2</tspan><tspan dy="-7">​</tspan>-Ta<tspan dy="7" font-size="20">2</tspan><tspan dy="-7">​</tspan>O<tspan dy="7" font-size="20">5</tspan><tspan dy="-7">​</tspan></text><line x1="138.6" y1="161.5" x2="202.2" y2="161.5" stroke="#2ba35e" stroke-width="4.6" stroke-linecap="round"/><text x="210" y="171.8">Ti/TaO<tspan dy="7" font-size="20">x</tspan><tspan dy="-7">​</tspan>#5/IrO<tspan dy="7" font-size="20">2</tspan><tspan dy="-7">​</tspan>-Ta<tspan dy="7" font-size="20">2</tspan><tspan dy="-7">​</tspan>O<tspan dy="7" font-size="20">5</tspan><tspan dy="-7">​</tspan></text></g>
<rect x="176.8" y="1127.0" width="130.1" height="418.2" fill="url(#hatch)" stroke="#2a2a2a" stroke-width="1.7" stroke-linejoin="round"/><line x1="241.8" y1="1112.0" x2="241.8" y2="1141.7" stroke="#333" stroke-width="1.7"/><line x1="231.3" y1="1112.0" x2="252.3" y2="1112.0" stroke="#111" stroke-width="1.8"/><line x1="231.3" y1="1141.7" x2="252.3" y2="1141.7" stroke="#111" stroke-width="1.8"/><rect x="391.5" y="936.0" width="128.5" height="609.2" fill="url(#hatch)" stroke="#2a2a2a" stroke-width="1.7" stroke-linejoin="round"/><line x1="455.8" y1="930.0" x2="455.8" y2="943.0" stroke="#333" stroke-width="1.7"/><line x1="445.2" y1="930.0" x2="466.2" y2="930.0" stroke="#111" stroke-width="1.8"/><line x1="445.2" y1="943.0" x2="466.2" y2="943.0" stroke="#111" stroke-width="1.8"/><rect x="605.0" y="997.0" width="129.5" height="548.2" fill="url(#hatch)" stroke="#2a2a2a" stroke-width="1.7" stroke-linejoin="round"/><line x1="669.8" y1="988.0" x2="669.8" y2="1005.5" stroke="#333" stroke-width="1.7"/><line x1="659.2" y1="988.0" x2="680.2" y2="988.0" stroke="#111" stroke-width="1.8"/><line x1="659.2" y1="1005.5" x2="680.2" y2="1005.5" stroke="#111" stroke-width="1.8"/><rect x="820.0" y="1009.5" width="128.0" height="535.7" fill="url(#hatch)" stroke="#2a2a2a" stroke-width="1.7" stroke-linejoin="round"/><line x1="884.0" y1="1003.5" x2="884.0" y2="1016.0" stroke="#333" stroke-width="1.7"/><line x1="873.5" y1="1003.5" x2="894.5" y2="1003.5" stroke="#111" stroke-width="1.8"/><line x1="873.5" y1="1016.0" x2="894.5" y2="1016.0" stroke="#111" stroke-width="1.8"/>
<g stroke="#000" stroke-width="2.6" fill="none" stroke-linecap="butt">
<rect x="134.8" y="856" width="856.2" height="689.2"/>
<line x1="121" y1="1545.2" x2="134.8" y2="1545.2"/><line x1="128" y1="1504.7" x2="134.8" y2="1504.7"/><line x1="121" y1="1464.1" x2="134.8" y2="1464.1"/><line x1="128" y1="1423.5" x2="134.8" y2="1423.5"/><line x1="121" y1="1383.0" x2="134.8" y2="1383.0"/><line x1="128" y1="1342.5" x2="134.8" y2="1342.5"/><line x1="121" y1="1301.9" x2="134.8" y2="1301.9"/><line x1="128" y1="1261.3" x2="134.8" y2="1261.3"/><line x1="121" y1="1220.8" x2="134.8" y2="1220.8"/><line x1="128" y1="1180.2" x2="134.8" y2="1180.2"/><line x1="121" y1="1139.7" x2="134.8" y2="1139.7"/><line x1="128" y1="1099.2" x2="134.8" y2="1099.2"/><line x1="121" y1="1058.6" x2="134.8" y2="1058.6"/><line x1="128" y1="1018.1" x2="134.8" y2="1018.1"/><line x1="121" y1="977.5" x2="134.8" y2="977.5"/><line x1="128" y1="937.0" x2="134.8" y2="937.0"/><line x1="121" y1="896.4" x2="134.8" y2="896.4"/><line x1="128" y1="855.9" x2="134.8" y2="855.9"/>
</g>
<g font-size="31"><text x="112" y="1554.0" text-anchor="end">0</text><text x="112" y="1472.9" text-anchor="end">5</text><text x="112" y="1391.8" text-anchor="end">10</text><text x="112" y="1310.7" text-anchor="end">15</text><text x="112" y="1229.6" text-anchor="end">20</text><text x="112" y="1148.5" text-anchor="end">25</text><text x="112" y="1067.4" text-anchor="end">30</text><text x="112" y="986.3" text-anchor="end">35</text><text x="112" y="905.2" text-anchor="end">40</text></g>
<text x="0" y="0" font-size="36" transform="translate(67.5,1299) rotate(-90)">q* (mC&#183;cm<tspan dy="-16" font-size="24">-2</tspan><tspan dy="16">)</tspan></text>
<text class="bd" x="163" y="955" font-size="72" font-weight="bold">(b)</text>
<g class="bd" font-size="21.5" font-weight="bold"><text x="174.5" y="1581.2">Ti/IrO<tspan dy="5.5" font-size="15.5">2</tspan><tspan dy="-5.5">​</tspan>-Ta<tspan dy="5.5" font-size="15.5">2</tspan><tspan dy="-5.5">​</tspan>O<tspan dy="5.5" font-size="15.5">5</tspan><tspan dy="-5.5">​</tspan></text><text x="354.5" y="1581.2">Ti/TaO<tspan dy="5.5" font-size="15.5">x</tspan><tspan dy="-5.5">​</tspan>#1/IrO<tspan dy="5.5" font-size="15.5">2</tspan><tspan dy="-5.5">​</tspan>-Ta<tspan dy="5.5" font-size="15.5">2</tspan><tspan dy="-5.5">​</tspan>O<tspan dy="5.5" font-size="15.5">5</tspan><tspan dy="-5.5">​</tspan></text><text x="575.0" y="1581.2">Ti/TaO<tspan dy="5.5" font-size="15.5">x</tspan><tspan dy="-5.5">​</tspan>#3/IrO<tspan dy="5.5" font-size="15.5">2</tspan><tspan dy="-5.5">​</tspan>-Ta<tspan dy="5.5" font-size="15.5">2</tspan><tspan dy="-5.5">​</tspan>O<tspan dy="5.5" font-size="15.5">5</tspan><tspan dy="-5.5">​</tspan></text><text x="791.5" y="1581.2">Ti/TaO<tspan dy="5.5" font-size="15.5">x</tspan><tspan dy="-5.5">​</tspan>#5/IrO<tspan dy="5.5" font-size="15.5">2</tspan><tspan dy="-5.5">​</tspan>-Ta<tspan dy="5.5" font-size="15.5">2</tspan><tspan dy="-5.5">​</tspan>O<tspan dy="5.5" font-size="15.5">5</tspan><tspan dy="-5.5">​</tspan></text></g>
</svg>
</body></html>
